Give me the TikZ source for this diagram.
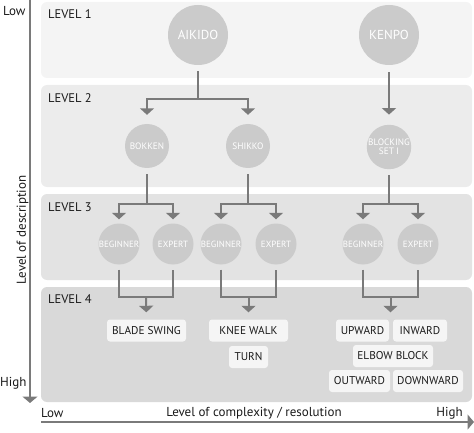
\documentclass[tikz,border=0pt]{standalone}
\usepackage{fontspec}
\setmainfont{PT Sans}
\usetikzlibrary{arrows.meta,calc}
\definecolor{pone}{HTML}{F4F4F4}
\definecolor{ptwo}{HTML}{ECECEC}
\definecolor{pthree}{HTML}{E3E3E3}
\definecolor{pfour}{HTML}{D9D9D9}
\definecolor{circ}{HTML}{CBCBCB}
\definecolor{boxfill}{HTML}{F5F5F5}
\definecolor{linec}{HTML}{7A7A7A}
\definecolor{txt}{HTML}{1A1A1A}
\tikzset{
  panel/.style={rounded corners=6pt, draw=none},
  lvl/.style={anchor=west, text=txt, font=\fontsize{12.5}{14}\selectfont, inner sep=0pt},
  bigc/.style={circle, fill=circ, minimum size=60pt, inner sep=0pt, text=white, font=\fontsize{13}{15}\selectfont},
  midc/.style={circle, fill=circ, minimum size=44pt, inner sep=0pt, text=white, font=\fontsize{9.3}{10}\selectfont, align=center},
  smallc/.style={circle, fill=circ, minimum size=41pt, inner sep=0pt, text=white, font=\fontsize{9}{10}\selectfont},
  leaf/.style={rounded corners=3pt, fill=boxfill, text=txt, minimum height=22pt, inner xsep=3pt, font=\fontsize{11.3}{13}\selectfont},
  conn/.style={draw=linec, line width=2pt},
  arr/.style={conn, -{Triangle[width=14pt,length=6.5pt]}},
  axisl/.style={draw=linec, line width=2pt, -{Triangle[width=15pt,length=6.5pt]}},
  axt/.style={text=txt, font=\fontsize{13}{15}\selectfont, inner sep=0pt}
}
\begin{document}
\begin{tikzpicture}[x=1pt,y=-1pt]
\useasboundingbox (0,0) rectangle (474,433);
% panels
\fill[pone, panel] (41,2) rectangle (472,78);
\fill[ptwo, panel] (41,85) rectangle (472,187);
\fill[pthree, panel] (41,194) rectangle (472,280);
\fill[pfour, panel] (41,287) rectangle (472,402);
\node[lvl] (l1) at (48,14) {LEVEL 1};
\node[lvl] (l2) at (48,98) {LEVEL 2};
\node[lvl] (l3) at (48,207) {LEVEL 3};
\node[lvl] (l4) at (48,299) {LEVEL 4};
% level 1
\node[bigc] (aikido) at (198,35) {AIKIDO};
\node[bigc] (kenpo) at (389,35) {KENPO};
% level 2
\node[midc] (bokken) at (147,146) {BOKKEN};
\node[midc] (shikko) at (248,146) {SHIKKO};
\node[midc] (block) at (389,147) {BLOCKING\\[-1pt]SET I};
% level 3
\node[smallc] (b1) at (119,244) {BEGINNER};
\node[smallc] (e1) at (173,244) {EXPERT};
\node[smallc] (b2) at (221,244) {BEGINNER};
\node[smallc] (e2) at (276,244) {EXPERT};
\node[smallc] (b3) at (363,244) {BEGINNER};
\node[smallc] (e3) at (418,244) {EXPERT};
% level 4
\node[leaf, minimum width=79pt] (blade) at (146.5,330.5) {BLADE SWING};
\node[leaf, minimum width=79pt] (knee) at (248.5,330.5) {KNEE WALK};
\node[leaf, minimum width=39pt] (turn) at (248.5,357) {TURN};
\node[leaf, minimum width=53pt] (upward) at (362.5,330.5) {UPWARD};
\node[leaf, minimum width=54pt] (inward) at (420,330.5) {INWARD};
\node[leaf, minimum width=80pt] (elbow) at (393,356) {ELBOW BLOCK};
\node[leaf, minimum width=61pt] (outward) at (359.5,381) {OUTWARD};
\node[leaf, minimum width=70pt] (downward) at (428,381) {DOWNWARD};
% junction coordinates
\coordinate (f1) at (198,99);
\coordinate (f2) at (147,204);
\coordinate (f3) at (248,204);
\coordinate (f4) at (389,204);
\coordinate (m1) at (146,297);
\coordinate (m2) at (248.5,297);
\coordinate (m3) at (390.5,297);
\coordinate (k4) at ($(upward.north east)!0.5!(inward.north west)$);
% level 1 -> 2
\draw[conn, shorten <=6pt] (aikido.south) -- (f1);
\draw[arr, shorten >=9pt] (f1) -| (bokken.north);
\draw[arr, shorten >=9pt] (f1) -| (shikko.north);
\draw[arr, shorten <=7pt, shorten >=10pt] (kenpo.south) -- (block.north);
% level 2 -> 3
\draw[conn, shorten <=6pt] (bokken.south) -- (f2);
\draw[arr, shorten >=4pt] (f2) -| (b1.north);
\draw[arr, shorten >=4pt] (f2) -| (e1.north);
\draw[conn, shorten <=6pt] (shikko.south) -- (f3);
\draw[arr, shorten >=4pt] (f3) -| (b2.north);
\draw[arr, shorten >=4pt] (f3) -| (e2.north);
\draw[conn, shorten <=6pt] (block.south) -- (f4);
\draw[arr, shorten >=4pt] (f4) -| (b3.north);
\draw[arr, shorten >=4pt] (f4) -| (e3.north);
% level 3 -> 4
\draw[conn, shorten <=5pt, shorten >=5pt] (b1.south) |- (m1) -| (e1.south);
\draw[arr, shorten >=7pt] (m1) -- (blade.north);
\draw[conn, shorten <=5pt, shorten >=5pt] (b2.south) |- (m2) -| (e2.south);
\draw[arr, shorten >=7pt] (m2) -- (knee.north);
\draw[conn, shorten <=5pt, shorten >=5pt] (b3.south) |- (m3) -| (e3.south);
\draw[arr, shorten >=7pt] (m3) -- (m3 |- k4);
% axes
\coordinate (vtop) at (30,0);
\coordinate (vbot) at (30,403);
\coordinate (hl) at (41,422);
\coordinate (hr) at (474,422);
\draw[axisl] (vtop) -- (vbot);
\draw[axisl] (hl) -- (hr);
\node[axt, anchor=west] (vlow) at (3,11) {Low};
\node[axt, anchor=west] (vhigh) at (0,383) {High};
\node[axt, rotate=90] (vdesc) at (22.5,230) {Level of description};
\node[axt, anchor=west] (hlow) at (41,413) {Low};
\node[axt] (hdesc) at (254,413) {Level of complexity / resolution};
\node[axt, anchor=east] (hhigh) at (463,413) {High};
\end{tikzpicture}
\end{document}
